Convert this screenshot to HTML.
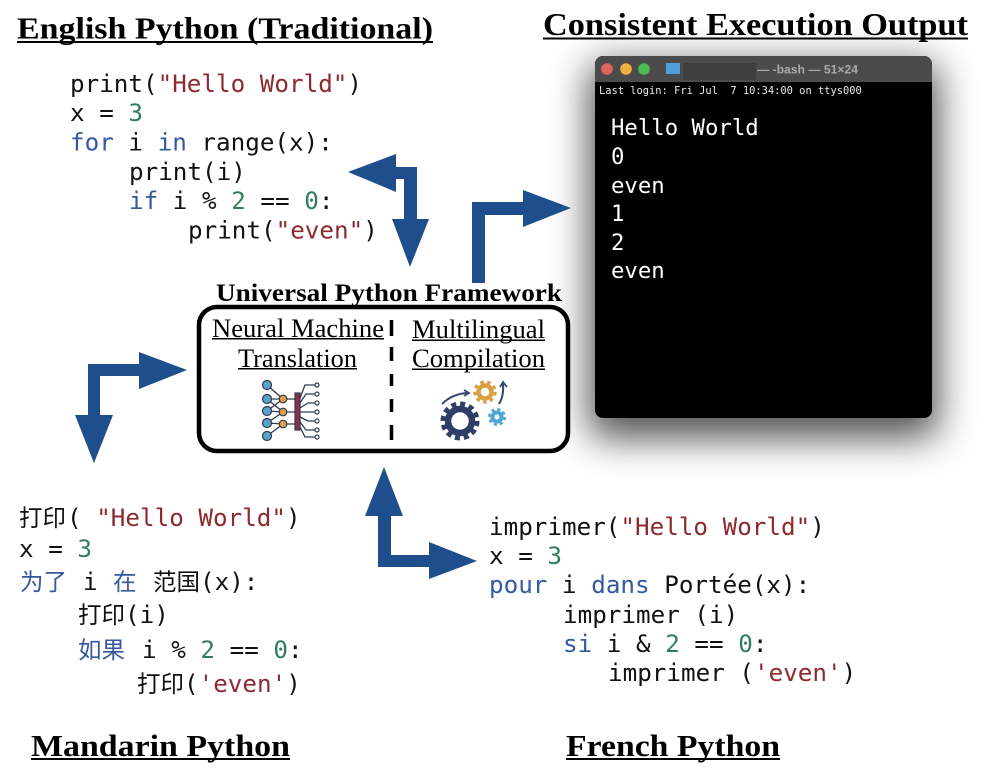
<!DOCTYPE html>
<html><head><meta charset="utf-8"><style>
html,body{margin:0;padding:0;background:#fff;width:990px;height:782px;overflow:hidden}
svg{position:absolute;left:0;top:0}
.t{position:absolute;left:595px;top:56px;width:337px;height:362px;border-radius:8px;background:#000;box-shadow:0 14px 38px 6px rgba(0,0,0,.68)}
.m{font-family:"DejaVu Sans Mono","Liberation Mono",monospace;font-size:24.25px;fill:#111;white-space:pre}
.c{font-family:"Liberation Sans","Noto Sans CJK SC",sans-serif;font-size:23.5px;fill:#111}
.k{fill:#33599f}.s{fill:#8c2a30}.n{fill:#2f7f5b}
.h{font-family:"Liberation Serif",serif;font-weight:bold;font-size:31px;fill:#000}
.f{font-family:"Liberation Serif",serif;font-size:26px;fill:#000}
.w{font-family:"DejaVu Sans Mono",monospace;font-size:22.3px;fill:#fff}
</style></head><body>
<div class="t"></div>
<svg width="990" height="782" viewBox="0 0 990 782" xmlns="http://www.w3.org/2000/svg">
<!-- terminal chrome -->
<path d="M595 82V64a8 8 0 0 1 8-8H924a8 8 0 0 1 8 8V82Z" fill="#4b4b4b"/>
<circle cx="607" cy="69" r="5.8" fill="#e0645a"/><circle cx="626" cy="69" r="5.8" fill="#f0b040"/><circle cx="644" cy="69" r="5.8" fill="#50b855"/>
<rect x="666" y="63" width="14" height="11" fill="#4f9fdc"/>
<rect x="683" y="63" width="73" height="17" fill="#3d3f3d"/>
<text x="757" y="73.5" font-family="Liberation Sans,sans-serif" font-weight="bold" font-size="12" fill="#aaaaaa" textLength="101" lengthAdjust="spacingAndGlyphs">— -bash — 51×24</text>
<text x="599" y="94" font-family="DejaVu Sans Mono,monospace" font-size="10.4" fill="#e8e8e8" xml:space="preserve">Last login: Fri Jul  7 10:34:00 on ttys000</text>
<text class="w" x="611" y="135">Hello World</text>
<text class="w" x="611" y="164">0</text>
<text class="w" x="611" y="193">even</text>
<text class="w" x="611" y="221">1</text>
<text class="w" x="611" y="250">2</text>
<text class="w" x="611" y="278">even</text>

<!-- headings -->
<text class="h" x="17" y="38.5" textLength="416" lengthAdjust="spacingAndGlyphs">English Python (Traditional)</text>
<rect x="17" y="41" width="416" height="2" fill="#000"/>
<text class="h" style="font-size:32px" x="543" y="35" textLength="425" lengthAdjust="spacingAndGlyphs">Consistent Execution Output</text>
<rect x="543" y="37.5" width="425" height="2" fill="#000"/>
<text class="h" x="31" y="756" textLength="259" lengthAdjust="spacingAndGlyphs">Mandarin Python</text>
<rect x="31" y="758" width="259" height="2" fill="#000"/>
<text class="h" x="566" y="756" textLength="214" lengthAdjust="spacingAndGlyphs">French Python</text>
<rect x="566" y="758" width="214" height="2" fill="#000"/>

<!-- English code -->
<text class="m" x="70" y="92">print(<tspan class="s">"Hello World"</tspan>)</text>
<text class="m" x="70" y="121">x = <tspan class="n">3</tspan></text>
<text class="m" x="70" y="150.5"><tspan class="k">for</tspan> i <tspan class="k">in</tspan> range(x):</text>
<text class="m" x="129" y="180">print(i)</text>
<text class="m" x="129" y="209"><tspan class="k">if</tspan> i % <tspan class="n">2</tspan> == <tspan class="n">0</tspan>:</text>
<text class="m" x="188" y="238.5">print(<tspan class="s">"even"</tspan>)</text>

<!-- French code -->
<text class="m" x="489" y="535">imprimer(<tspan class="s">"Hello World"</tspan>)</text>
<text class="m" x="489" y="564">x = <tspan class="n">3</tspan></text>
<text class="m" x="489" y="593"><tspan class="k">pour</tspan> i <tspan class="k">dans</tspan> Portée(x):</text>
<text class="m" x="563" y="623">imprimer (i)</text>
<text class="m" x="563" y="652"><tspan class="k">si</tspan> i &amp; <tspan class="n">2</tspan> == <tspan class="n">0</tspan>:</text>
<text class="m" x="608" y="681">imprimer (<tspan class="s">'even'</tspan>)</text>

<!-- Mandarin code -->
<text class="c" x="19" y="526">打印</text><text class="m" x="67" y="526" xml:space="preserve">( <tspan class="s">"Hello World"</tspan>)</text>
<text class="m" x="19" y="557">x = <tspan class="n">3</tspan></text>
<text class="c k" x="20" y="590">为了</text><text class="m" x="83" y="590">i</text><text class="c k" x="113" y="590">在</text><text class="c" x="153" y="590">范国</text><text class="m" x="200" y="590">(x):</text>
<text class="c" x="78" y="623">打印</text><text class="m" x="125" y="623">(i)</text>
<text class="c k" x="78" y="658">如果</text><text class="m" x="142" y="658">i % <tspan class="n">2</tspan> == <tspan class="n">0</tspan>:</text>
<text class="c" x="137" y="692">打印</text><text class="m" x="184" y="692">(<tspan class="s">'even'</tspan>)</text>

<!-- arrows -->
<g fill="#1f4e8c">
<path d="M348 172 396 154V167H417V219H429L410 267 392 219H404V179H396V192Z"/>
<path d="M472 283V202H523V190L571 208 523 227V215H485V283Z"/>
<path d="M187 370 139 352V364H88V415H75L94 463 113 415H100V376H139V389Z"/>
<path d="M384 467 403 516H391V555H429V542L477 561 429 579V567H378V516H365Z"/>
</g>

<!-- framework -->
<text x="216" y="301" font-family="Liberation Serif,serif" font-weight="bold" font-size="25.5" textLength="346" lengthAdjust="spacingAndGlyphs">Universal Python Framework</text>
<rect x="199" y="307" width="369" height="144" rx="18" fill="#fff" stroke="#000" stroke-width="4.5"/>
<text class="f" x="212" y="337" textLength="172" lengthAdjust="spacingAndGlyphs">Neural Machine</text>
<rect x="212" y="338" width="172" height="1.5" fill="#000"/>
<text class="f" x="238" y="367" textLength="119" lengthAdjust="spacingAndGlyphs">Translation</text>
<rect x="238" y="368" width="119" height="1.5" fill="#000"/>
<text class="f" x="412" y="338" textLength="133" lengthAdjust="spacingAndGlyphs">Multilingual</text>
<rect x="412" y="339.5" width="133" height="1.5" fill="#000"/>
<text class="f" x="412" y="367" textLength="133" lengthAdjust="spacingAndGlyphs">Compilation</text>
<rect x="412" y="368.5" width="133" height="1.5" fill="#000"/>
<path d="M391.5 320V336M391.5 347V361M391.5 374V386M391.5 399V412M391.5 425V440" stroke="#000" stroke-width="3.5" fill="none"/>

<!-- network icon -->
<g fill="none" stroke="#2f3c4f" stroke-width="1.3">
<path d="M267 385 283 399 267 411 283 412 267 423 283 424 267 436M267 399 283 399 267 399 283 412 267 423M283 399H296M283 412H296M283 424H296"/>
<path d="M300 398 305 385H317M300 403 306 394H317M300 408 308 403H317M300 412H317M300 417 308 421H317M300 422 306 430H317M300 427 305 437H317"/>
</g>
<g stroke="#2f3c4f" stroke-width="1.2">
<g fill="#5ba3c9"><circle cx="267" cy="385" r="4.5"/><circle cx="267" cy="399" r="4.5"/><circle cx="267" cy="411" r="4.5"/><circle cx="267" cy="423" r="4.5"/><circle cx="267" cy="436" r="4.5"/></g>
<g fill="#e2a04a"><circle cx="283" cy="399" r="3.8"/><circle cx="283" cy="412" r="3.8"/><circle cx="283" cy="424" r="3.8"/></g>
<rect x="295" y="393" width="5" height="37" fill="#8f2f45"/>
<g fill="#fff"><circle cx="317" cy="385" r="2"/><circle cx="317" cy="394" r="2"/><circle cx="317" cy="403" r="2"/><circle cx="317" cy="412" r="2"/><circle cx="317" cy="421" r="2"/><circle cx="317" cy="430" r="2"/><circle cx="317" cy="437" r="2"/></g>
</g>

<!-- gears icon -->
<g fill="none">
<circle cx="460" cy="421" r="12" stroke="#2f3e66" stroke-width="6.5"/>
<circle cx="460" cy="421" r="17" stroke="#2f3e66" stroke-width="5" stroke-dasharray="5 3.9"/>
<circle cx="485" cy="392" r="6.5" stroke="#d9a144" stroke-width="4.5"/>
<circle cx="485" cy="392" r="10" stroke="#d9a144" stroke-width="3.5" stroke-dasharray="3.5 3.5"/>
<circle cx="497" cy="417" r="4.5" stroke="#4fa6d4" stroke-width="4"/>
<circle cx="497" cy="417" r="7.5" stroke="#4fa6d4" stroke-width="3" stroke-dasharray="3 2.9"/>
<path d="M442 404Q452 394 467 393" stroke="#33476e" stroke-width="2"/>
<path d="M464 390 469 393 464 396" stroke="#33476e" stroke-width="1.8"/>
<path d="M499 404Q504 396 503 384" stroke="#33476e" stroke-width="2"/>
<path d="M500 387 503 382 507 387" stroke="#33476e" stroke-width="1.8"/>
</g>
</svg>
</body></html>
